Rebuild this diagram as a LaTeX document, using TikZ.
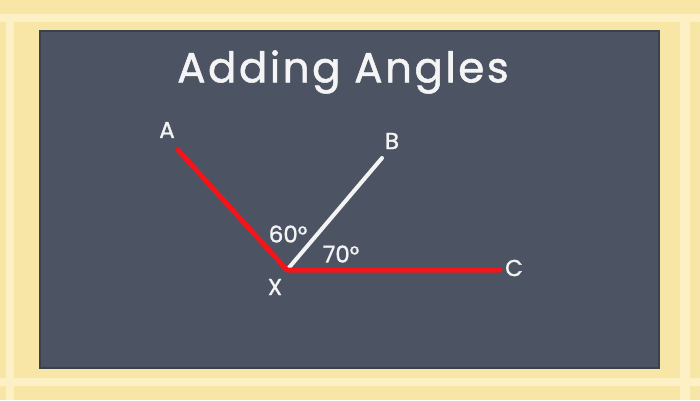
\documentclass[tikz,border=0pt]{standalone}
\usepackage{fontspec}
\setmainfont{Poppins}
\usetikzlibrary{positioning}
\definecolor{frameyellow}{HTML}{F8E6A6}
\definecolor{framelight}{HTML}{FCF0C4}
\definecolor{boardgray}{HTML}{4C5464}
\definecolor{boardedge}{HTML}{3A404C}
\definecolor{chalkred}{HTML}{F5141A}
\definecolor{chalkwhite}{HTML}{F4F4F4}

\tikzset{
    chalklabel/.style={text=chalkwhite, font=\fontsize{23}{23}\selectfont\addfontfeatures{FakeBold=1.2}, inner sep=1pt},
    redray/.style={draw=chalkred, line width=5pt, line cap=round, line join=round},
    whiteray/.style={draw=chalkwhite, line width=4pt, line cap=round}
}

\begin{document}
\begin{tikzpicture}[x=1pt, y=-1pt]
    % frame and board
    \fill[frameyellow] (0,0) rectangle (700,400);
    \fill[framelight] (0,14) rectangle (700,22);
    \fill[framelight] (6,22) rectangle (14,400);
    \fill[framelight] (680,22) rectangle (690,400);
    \fill[framelight] (0,378) rectangle (700,386);
    \fill[boardgray, draw=boardedge, line width=1.5pt] (40,31) rectangle (659,368);

    % title
    \node[text=chalkwhite, font=\fontsize{42}{42}\selectfont\addfontfeatures{LetterSpace=6,FakeBold=1.3}] (title) at (343,72) {Adding Angles};

    % points
    \coordinate (X) at (287,270);
    \coordinate (A) at (178,150);
    \coordinate (B) at (382,158);
    \coordinate (C) at (500,270);

    % rays
    \draw[whiteray] (X) -- (B);
    \draw[redray] (A) -- (X) -- (C);

    % labels
    \node[chalklabel] (labA) at (167,130) {A};
    \node[chalklabel] (labB) at (392,141) {B};
    \node[chalklabel] (labC) at (514,268) {C};
    \node[chalklabel] (labX) at (275,287) {X};
    \node[chalklabel] (ang1) at (288,234) {60°};
    \node[chalklabel] (ang2) at (341,254) {70°};
\end{tikzpicture}
\end{document}
